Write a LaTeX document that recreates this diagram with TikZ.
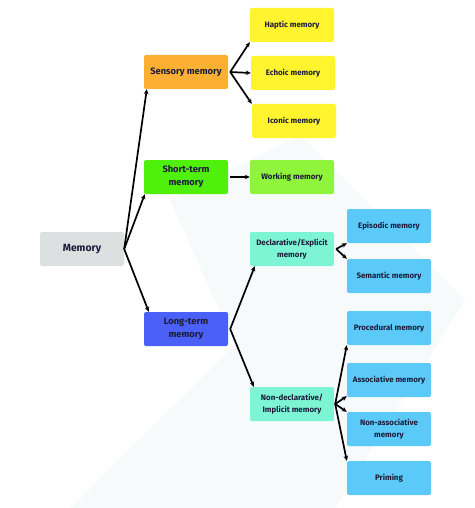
\documentclass[tikz,border=0pt]{standalone}
\usepackage{fontspec}
\setmainfont{Fira Sans}
\usetikzlibrary{arrows.meta,calc}
\definecolor{cgray}{HTML}{DDE0E0}
\definecolor{corange}{HTML}{FBB034}
\definecolor{cgreen}{HTML}{4FF00C}
\definecolor{cblue}{HTML}{4A60F6}
\definecolor{cyellow}{HTML}{FFF42E}
\definecolor{clime}{HTML}{90F33C}
\definecolor{caqua}{HTML}{7DF5D4}
\definecolor{csky}{HTML}{5CCAF8}
\definecolor{ctext}{HTML}{1C1C3A}
\definecolor{cwater}{HTML}{F6FAFB}
\tikzset{
  box/.style={rectangle, rounded corners=2pt, minimum width=84pt, minimum height=34pt,
    inner sep=1pt, align=center, text=ctext, font=\fontsize{7.9}{12}\selectfont\bfseries},
  bigbox/.style={box, font=\fontsize{9.3}{13}\selectfont\bfseries},
  conn/.style={line width=1.7pt, -{Stealth[length=5pt,width=4.5pt]}},
}
\begin{document}
\begin{tikzpicture}[x=1pt,y=-1pt]
\useasboundingbox (0,0) rectangle (474,508);
% faint background shape
\fill[cwater] (300,135) -- (465,300) -- (335,508) -- (70,508) -- (235,345) -- (170,200) -- cycle;

\node[box, fill=cgray, font=\fontsize{10.4}{12}\selectfont\bfseries] (mem) at (82,249) {Memory};
\node[bigbox, fill=corange] (sens) at (186,72) {Sensory memory};
\node[bigbox, fill=cgreen] (short) at (186,177) {Short-term\\memory};
\node[bigbox, fill=cblue] (long) at (186,329) {Long-term\\memory};
\node[box, fill=cyellow] (hap) at (292,25) {Haptic memory};
\node[box, fill=cyellow] (echo) at (293,73) {Echoic memory};
\node[box, fill=cyellow] (icon) at (294,121) {Iconic memory};
\node[box, fill=clime] (work) at (292,177) {Working memory};
\node[box, fill=caqua] (decl) at (292,249) {Declarative/Explicit\\memory};
\node[box, fill=caqua] (nondecl) at (292,404) {Non-declarative/\\Implicit memory};
\node[box, fill=csky] (epi) at (389,226) {Episodic memory};
\node[box, fill=csky] (sem) at (389,276) {Semantic memory};
\node[box, fill=csky] (proc) at (389,328) {Procedural memory};
\node[box, fill=csky] (assoc) at (389,380) {Associative memory};
\node[box, fill=csky] (nassoc) at (389,429) {Non-associative\\memory};
\node[box, fill=csky] (prim) at (389,478) {Priming};

\draw[conn] (mem.east) -- ($(sens.south west)+(3,0)$);
\draw[conn] (mem.east) -- ($(short.south west)+(1,0)$);
\draw[conn] (mem.east) -- ($(long.north west)+(5,0)$);

\draw[conn] ($(sens.east)+(2,0)$) -- (hap.south west);
\draw[conn] ($(sens.east)+(2,0)$) -- (echo.west);
\draw[conn] ($(sens.east)+(2,0)$) -- (icon.north west);

\draw[conn] ($(short.east)+(2,0)$) -- (work.west);

\draw[conn] ($(long.east)+(2,0)$) -- ($(decl.south west)+(5,0)$);
\draw[conn] ($(long.east)+(2,0)$) -- ($(nondecl.north west)+(4,0)$);

\draw[conn] ($(decl.east)+(2,0)$) -- (epi.south west);
\draw[conn] ($(decl.east)+(2,0)$) -- (sem.north west);

\draw[conn] ($(nondecl.east)+(1,0)$) -- (proc.south west);
\draw[conn] ($(nondecl.east)+(1,0)$) -- ($(assoc.south west)+(0,-1)$);
\draw[conn] ($(nondecl.east)+(1,0)$) -- (nassoc.north west);
\draw[conn] ($(nondecl.east)+(1,0)$) -- (prim.north west);
\end{tikzpicture}
\end{document}
